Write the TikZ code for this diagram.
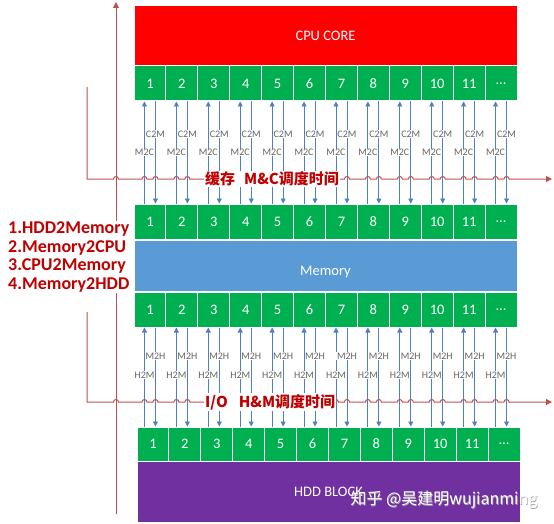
\documentclass[tikz,border=0pt]{standalone}
\usepackage{fontspec}
\setmainfont{Carlito}
\newfontfamily\cjk{Noto Sans CJK SC}
\usetikzlibrary{arrows.meta,positioning}
\definecolor{cpured}{RGB}{255,0,0}
\definecolor{slotgreen}{RGB}{0,176,80}
\definecolor{memblue}{RGB}{91,155,213}
\definecolor{hddpurple}{RGB}{112,48,160}
\definecolor{busblue}{RGB}{79,129,189}
\definecolor{timered}{RGB}{192,80,77}
\definecolor{labelred}{RGB}{192,0,0}
\definecolor{labelgray}{RGB}{100,100,105}

\begin{document}
\begin{tikzpicture}[x=1pt, y=-1pt,
                    block/.style = {
                      draw=white, line width=1pt,
                      text=white, minimum width=383pt,
                      inner sep=0pt,
                      font=\fontsize{14.5}{16}\selectfont
                    },
                    slot/.style = {
                      draw=white, line width=1pt,
                      fill=slotgreen, text=white,
                      minimum width=31.92pt, minimum height=35pt,
                      inner sep=0pt,
                      font=\fontsize{14.5}{16}\selectfont
                    },
                    bus/.style = {
                      draw=busblue, line width=0.8pt,
                      -{Triangle[width=5pt,length=5pt]}
                    },
                    buslabel/.style = {
                      fill=white, text=labelgray, inner sep=0.6pt,
                      font=\fontsize{10}{11}\selectfont
                    },
                    timeline/.style = {
                      draw=timered, line width=1pt,
                      -{Triangle[width=6pt,length=6pt]}
                    },
                    timelabel/.style = {
                      fill=white, text=labelred, inner sep=1pt,
                      font=\cjk\bfseries\fontsize{15}{17}\selectfont
                    }]
    \useasboundingbox (0,0) rectangle (554,524);

    % big blocks
    \node(cpu)[block, fill=cpured, minimum height=60pt] at (325.5,36) {CPU CORE};
    \node(mem)[block, fill=memblue, minimum height=51pt,
               text height=22pt, text depth=3pt] at (325.5,265.5) {Memory};
    \node(hdd)[block, fill=hddpurple, minimum height=61pt] at (328.5,491.5) {HDD BLOCK};

    % slot rows
    \foreach \i [evaluate=\i as \cx using 134+(\i-0.5)*31.917] in {1,...,12} {
      \node(c\i)[slot] at (\cx,83.5) {\ifnum\i<12 \i\else...\fi};
      \node(ma\i)[slot] at (\cx,221.5) {\ifnum\i<12 \i\else...\fi};
      \node(mb\i)[slot] at (\cx,309.5) {\ifnum\i<12 \i\else...\fi};
      \node(h\i)[slot, minimum height=34pt] at (\cx+3,444) {\ifnum\i<12 \i\else...\fi};
    }

    % transfers
    \foreach \i in {1,...,12} {
      \draw[bus] ([xshift=-5.5pt]ma\i.north) -- node[buslabel, pos=0.5]{M2C} ([xshift=-5.5pt]c\i.south);
      \draw[bus] ([xshift=5.5pt]c\i.south) -- node[buslabel, pos=0.32]{C2M} ([xshift=5.5pt]ma\i.north);
      \draw[bus] ([xshift=-8.5pt]h\i.north) -- node[buslabel, pos=0.52]{H2M} ([xshift=-5.5pt]mb\i.south);
      \draw[bus] ([xshift=5.5pt]mb\i.south) -- node[buslabel, pos=0.29]{M2H} ([xshift=2.5pt]h\i.north);
    }

    % time axis
    \coordinate(axis bottom) at (116,514);
    \coordinate(axis top) at (116,2);
    \draw[timeline] (axis bottom) -- (axis top);

    \coordinate(mc start) at (87,87);
    \coordinate(mc end) at (552,179);
    \draw[timeline] (mc start) -- (87,179) -- (113.5,179)
      arc[start angle=180, end angle=0, radius=2.5pt]
      \foreach \i [evaluate=\i as \cx using 134+(\i-0.5)*31.917] in {1,...,12} {
        -- ({\cx-8},179) arc[start angle=180, end angle=0, radius=2.5pt]
        -- ({\cx+3},179) arc[start angle=180, end angle=0, radius=2.5pt]
      } -- (mc end);

    \coordinate(hm start) at (87,312);
    \coordinate(hm end) at (552,402);
    \draw[timeline] (hm start) -- (87,402) -- (113.5,402)
      arc[start angle=180, end angle=0, radius=2.5pt]
      \foreach \i [evaluate=\i as \cx using 134+(\i-0.5)*31.917] in {1,...,12} {
        -- ({\cx-8},402) arc[start angle=180, end angle=0, radius=2.5pt]
        -- ({\cx+3},402) arc[start angle=180, end angle=0, radius=2.5pt]
      } -- (hm end);

    \node(mc label)[timelabel, anchor=west] at (204,179) {缓存\hspace{9pt}M\&C调度时间};
    \node(hm label)[timelabel, anchor=west] at (204,402) {I/O\hspace{11pt}H\&M调度时间};

    % steps
    \node(steps)[anchor=west, fill=white, text=labelred, align=left, inner sep=1pt,
                 font=\bfseries\fontsize{18}{18.5}\selectfont] at (7,257)
      {1.HDD2Memory\\2.Memory2CPU\\3.CPU2Memory\\4.Memory2HDD};

    % watermark
    \node(wm shadow)[anchor=west, text=gray!70, font=\cjk\fontsize{16}{18}\selectfont] at (347.7,500.7) {知乎 @吴建明wujianming};
    \node(wm)[anchor=west, text=white, font=\cjk\fontsize{16}{18}\selectfont] at (347,500) {知乎 @吴建明wujianming};
  \end{tikzpicture}
\end{document}
